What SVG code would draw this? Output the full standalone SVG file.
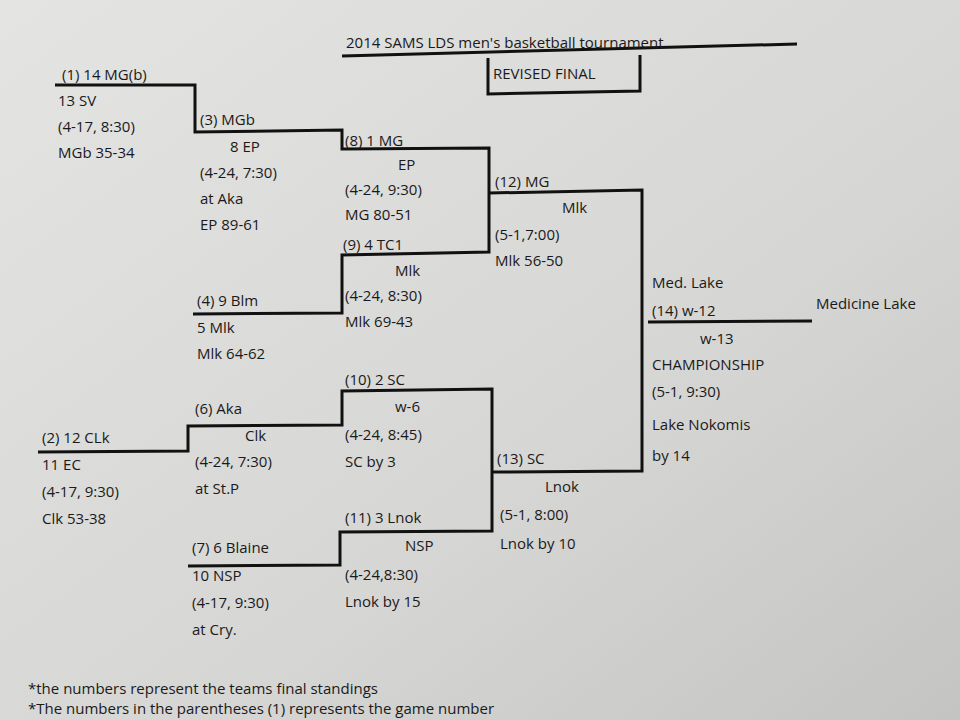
<svg xmlns="http://www.w3.org/2000/svg" width="960" height="720" viewBox="0 0 960 720" xml:space="preserve">
<defs>
<linearGradient id="bg" x1="0" y1="0" x2="1" y2="1">
<stop offset="0" stop-color="#e4e4e2"/><stop offset="0.6" stop-color="#d6d6d4"/><stop offset="1" stop-color="#c4c4c2"/>
</linearGradient>
<style>
text{font-family:"Open Sans","DejaVu Sans",sans-serif;font-size:15px;fill:#1a1a1a}
.l{stroke:#111;stroke-width:3;fill:none}
</style>
</defs>
<rect width="960" height="720" fill="url(#bg)"/>
<g id="connectors">
<polyline class="l" points="55,85 195,85 195,132 342,130 342,149 489,148 489,252 342,255 342,313 193,314"/>
<polyline class="l" points="489,193 642,190 642,471 493,472"/>
<line class="l" x1="648" y1="322" x2="812" y2="321"/>
<polyline class="l" points="38,452 188,451 188,426 342,425 342,391 492,389 492,531 340,532 340,565 188,566"/>
<line class="l" x1="342" y1="56" x2="797" y2="44"/>
<polyline class="l" points="488,58 488,94 640,91 640,55"/>
</g>
<g id="title"><text x="346" y="48" font-size="14">2014 SAMS LDS  men's basketball tournament</text>
<text x="493" y="79" font-size="14">REVISED FINAL</text></g>
<g id="g1"><text x="62" y="80">(1) 14 MG(b)</text><text x="58" y="106">13    SV</text><text x="58" y="132">(4-17, 8:30)</text><text x="58" y="158">MGb 35-34</text></g>
<g id="g3"><text x="200" y="125">(3)     MGb</text><text x="230" y="152">8  EP</text><text x="200" y="178">(4-24, 7:30)</text><text x="200" y="204">at Aka</text><text x="200" y="230">EP  89-61</text></g>
<g id="g8"><text x="345" y="146">(8)  1  MG</text><text x="398" y="170">EP</text><text x="345" y="195">(4-24, 9:30)</text><text x="345" y="220">MG 80-51</text></g>
<g id="g9"><text x="343" y="250">(9) 4  TC1</text><text x="395" y="276">Mlk</text><text x="345" y="301">(4-24, 8:30)</text><text x="345" y="327">Mlk  69-43</text></g>
<g id="g4"><text x="197" y="306">(4)  9 Blm</text><text x="197" y="333">5  Mlk</text><text x="197" y="359">Mlk  64-62</text></g>
<g id="g12"><text x="495" y="187">(12)      MG</text><text x="562" y="213">Mlk</text><text x="495" y="240">(5-1,7:00)</text><text x="495" y="266">Mlk 56-50</text></g>
<g id="g14"><text x="652" y="288">Med. Lake</text><text x="652" y="316">(14)  w-12</text><text x="700" y="344">w-13</text><text x="652" y="370">CHAMPIONSHIP</text><text x="652" y="397">(5-1, 9:30)</text><text x="652" y="430">Lake Nokomis</text><text x="652" y="461">by 14</text><text x="816" y="309">Medicine Lake</text></g>
<g id="g10"><text x="345" y="385">(10) 2 SC</text><text x="395" y="412">w-6</text><text x="345" y="440">(4-24, 8:45)</text><text x="345" y="467">SC  by 3</text></g>
<g id="g6"><text x="195" y="414">(6)     Aka</text><text x="245" y="441">Clk</text><text x="195" y="467">(4-24, 7:30)</text><text x="195" y="494">at St.P</text></g>
<g id="g2"><text x="42" y="443">(2)  12 CLk</text><text x="42" y="470">11  EC</text><text x="42" y="497">(4-17, 9:30)</text><text x="42" y="524">Clk 53-38</text></g>
<g id="g13"><text x="497" y="464">(13)  SC</text><text x="545" y="492">Lnok</text><text x="500" y="520">(5-1, 8:00)</text><text x="500" y="549">Lnok by 10</text></g>
<g id="g11"><text x="345" y="523">(11) 3 Lnok</text><text x="405" y="551">NSP</text><text x="345" y="580">(4-24,8:30)</text><text x="345" y="607">Lnok by 15</text></g>
<g id="g7"><text x="192" y="553">(7) 6 Blaine</text><text x="192" y="581">10  NSP</text><text x="192" y="608">(4-17, 9:30)</text><text x="192" y="635">at Cry.</text></g>
<g id="notes"><text x="28" y="694">*the numbers represent the teams final standings</text><text x="28" y="714">*The numbers in the parentheses (1) represents the game number</text></g>
</svg>
